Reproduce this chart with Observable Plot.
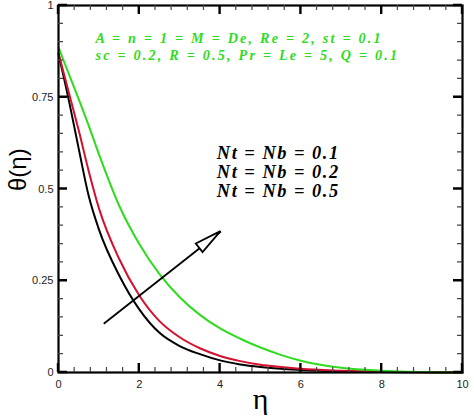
<!DOCTYPE html>
<html><head><meta charset="utf-8">
<script src="https://cdn.jsdelivr.net/npm/d3@7"></script>
<script src="https://cdn.jsdelivr.net/npm/@observablehq/plot@0.6"></script>
<style>body{margin:0;background:#fff} svg{display:block}</style>
</head><body><div id="chart"></div>
<script>
const eta       = [0, 0.25, 0.5, 0.75, 1, 1.5, 2, 2.5, 3, 3.5, 4, 4.5, 5, 5.5, 6, 7, 8, 9, 10];
const thetaNt01 = [0.868, 0.745, 0.61, 0.48, 0.39, 0.265, 0.172, 0.108, 0.072, 0.05, 0.033, 0.022, 0.015, 0.01, 0.007, 0.003, 0.0015, 0.0006, 0];
const thetaNt02 = [0.87, 0.765, 0.66, 0.548, 0.448, 0.31, 0.21, 0.14, 0.096, 0.066, 0.045, 0.031, 0.021, 0.015, 0.01, 0.005, 0.002, 0.001, 0];
const thetaNt05 = [0.886, 0.815, 0.745, 0.672, 0.595, 0.455, 0.35, 0.268, 0.205, 0.157, 0.12, 0.092, 0.068, 0.048, 0.032, 0.013, 0.005, 0.0015, 0];
const seriesLabels = ["Nt = Nb = 0.1", "Nt = Nb = 0.2", "Nt = Nb = 0.5"];
const seriesColors = ["#000000", "#d4102e", "#2edc1e"];
const xMajorTicks = [0, 2, 4, 6, 8, 10];
const xMinorTicks = [0.4, 0.8, 1.2, 1.6, 2.4, 2.8, 3.2, 3.6, 4.4, 4.8, 5.2, 5.6, 6.4, 6.8, 7.2, 7.6, 8.4, 8.8, 9.2, 9.6];
const yMajorTicks = [0, 0.25, 0.5, 0.75, 1];
const yTickLabels = ["0", "0.25", "0.5", "0.75", "1"];
const yMinorTicks = [0.05, 0.1, 0.15, 0.2, 0.3, 0.35, 0.4, 0.45, 0.55, 0.6, 0.65, 0.7, 0.8, 0.85, 0.9, 0.95];
const paramText = "A = n = 1 = M = De, Re = 2, st = 0.1\nsc = 0.2, R = 0.5, Pr = Le = 5, Q = 0.1";
const paramPos = [0.915, 0.929];
const legendPos = [3.92, 0.618];
const arrowFrom = [1.12, 0.133];
const arrowTo = [4.02, 0.384];
const xLabel = "η";
const yLabel = "θ(η)";

const W = 474, H = 420, mL = 58, mR = 12, mT = 5, mB = 48;
const xDom = [0, 10], yDom = [0, 1];
const majorLen = 9, minorLen = 5;

const seriesData = [thetaNt01, thetaNt02, thetaNt05];
const serif = "'Liberation Serif', 'Times New Roman', serif";
const sans = "'Liberation Sans', Arial, sans-serif";

const lineMarks = seriesData.map((vals, k) =>
  Plot.line(eta, {x: d => d, y: (d, i) => vals[i], stroke: seriesColors[k], strokeWidth: 2, curve: "monotone-x"})
);

// inward tick marks drawn as Plot vectors anchored to the frame edges
const tickShapeUp = {draw(ctx, l) { ctx.moveTo(0, 0); ctx.lineTo(0, -l); }};
const tickShapeDown = {draw(ctx, l) { ctx.moveTo(0, 0); ctx.lineTo(0, l); }};
const tickShapeRight = {draw(ctx, l) { ctx.moveTo(0, 0); ctx.lineTo(l, 0); }};
const tickShapeLeft = {draw(ctx, l) { ctx.moveTo(0, 0); ctx.lineTo(-l, 0); }};

const plot = Plot.plot({
  width: W, height: H,
  marginLeft: mL, marginRight: mR, marginTop: mT, marginBottom: mB,
  style: {fontFamily: sans, fontSize: "11px", color: "#000", background: "#fff", overflow: "visible"},
  x: {domain: xDom},
  y: {domain: yDom},
  marks: [
    ...lineMarks,
    Plot.link([0], {x1: () => arrowFrom[0], y1: () => arrowFrom[1], x2: () => arrowTo[0], y2: () => arrowTo[1], stroke: "#000", strokeWidth: 1.8}),
    Plot.text([paramText], {x: () => paramPos[0], y: () => paramPos[1], text: d => d, textAnchor: "start", lineAnchor: "top", fontFamily: serif, fontStyle: "italic", fontWeight: "bold", fontSize: 14.2, lineHeight: 1.17, fill: seriesColors[2]}),
    Plot.text([seriesLabels.join("\n")], {x: () => legendPos[0], y: () => legendPos[1], text: d => d, textAnchor: "start", lineAnchor: "top", fontFamily: serif, fontStyle: "italic", fontWeight: "bold", fontSize: 18.4, lineHeight: 1.03, fill: "#000"}),
    // tick labels
    Plot.axisX({anchor: "bottom", ticks: xMajorTicks, tickSize: 0, tickPadding: 8, tickFormat: d => String(d), label: null, fontSize: 11, fill: "#222"}),
    Plot.axisY({anchor: "left", ticks: yMajorTicks, tickSize: 0, tickPadding: 5, tickFormat: (d, i) => yTickLabels[i], label: null, fontSize: 11, fill: "#222"}),
    // axis titles
    Plot.text([xLabel], {frameAnchor: "bottom", dy: 36, text: d => d, fontFamily: serif, fontSize: 30, fill: "#000"}),
    Plot.text([yLabel], {frameAnchor: "left", dx: -40, dy: 2, rotate: -90, text: d => d, fontFamily: sans, fontSize: 24, fill: "#000"}),
    Plot.frame({stroke: "#000", strokeWidth: 2.2})
  ]
});

const svg = d3.select(plot);
const sx = plot.scale("x"), sy = plot.scale("y");
const X = v => sx.apply(v), Y = v => sy.apply(v);

// inward ticks on all four sides, positioned through the plot's scales (as paths)
(function () {
  const x0 = X(xDom[0]), x1 = X(xDom[1]), y0 = Y(yDom[0]), y1 = Y(yDom[1]);
  const build = (len, xv, yv) => {
    let d = "";
    xv.forEach(v => { const p = X(v); d += `M${p},${y0}V${y0 - len}M${p},${y1}V${y1 + len}`; });
    yv.forEach(v => { const p = Y(v); d += `M${x0},${p}H${x0 + len}M${x1},${p}H${x1 - len}`; });
    return d;
  };
  svg.append("path").attr("d", build(minorLen, xMinorTicks, yMinorTicks))
    .attr("fill", "none").attr("stroke", "#444").attr("stroke-width", 1.2);
  svg.append("path").attr("d", build(majorLen, xMajorTicks, yMajorTicks))
    .attr("fill", "none").attr("stroke", "#000").attr("stroke-width", 2.4);
})();

// widen the annotation lettering like the original
svg.selectAll("text").filter(function () {
  const t = this.textContent;
  return t.includes("A = n") || t.includes("Nt = Nb");
}).each(function () {
  const isParam = this.textContent.includes("A = n");
  d3.select(this).style("letter-spacing", isParam ? "2.2px" : "1.5px");
});

// open triangular arrowhead placed through the plot's scales
(function () {
  const tx = X(arrowTo[0]), ty = Y(arrowTo[1]);
  const fx = X(arrowFrom[0]), fy = Y(arrowFrom[1]);
  const a = Math.atan2(ty - fy, tx - fx);
  const L = 27, Wd = 5.5;
  const bx = tx - L * Math.cos(a), by = ty - L * Math.sin(a);
  const px = -Math.sin(a), py = Math.cos(a);
  const pts = [[tx, ty], [bx + Wd * px, by + Wd * py], [bx - Wd * px, by - Wd * py]];
  svg.append("polygon")
    .attr("points", pts.map(p => p.join(",")).join(" "))
    .attr("fill", "#fff").attr("stroke", "#000").attr("stroke-width", 1.8).attr("stroke-linejoin", "miter");
})();

document.getElementById("chart").append(plot);
</script>
</body></html>
